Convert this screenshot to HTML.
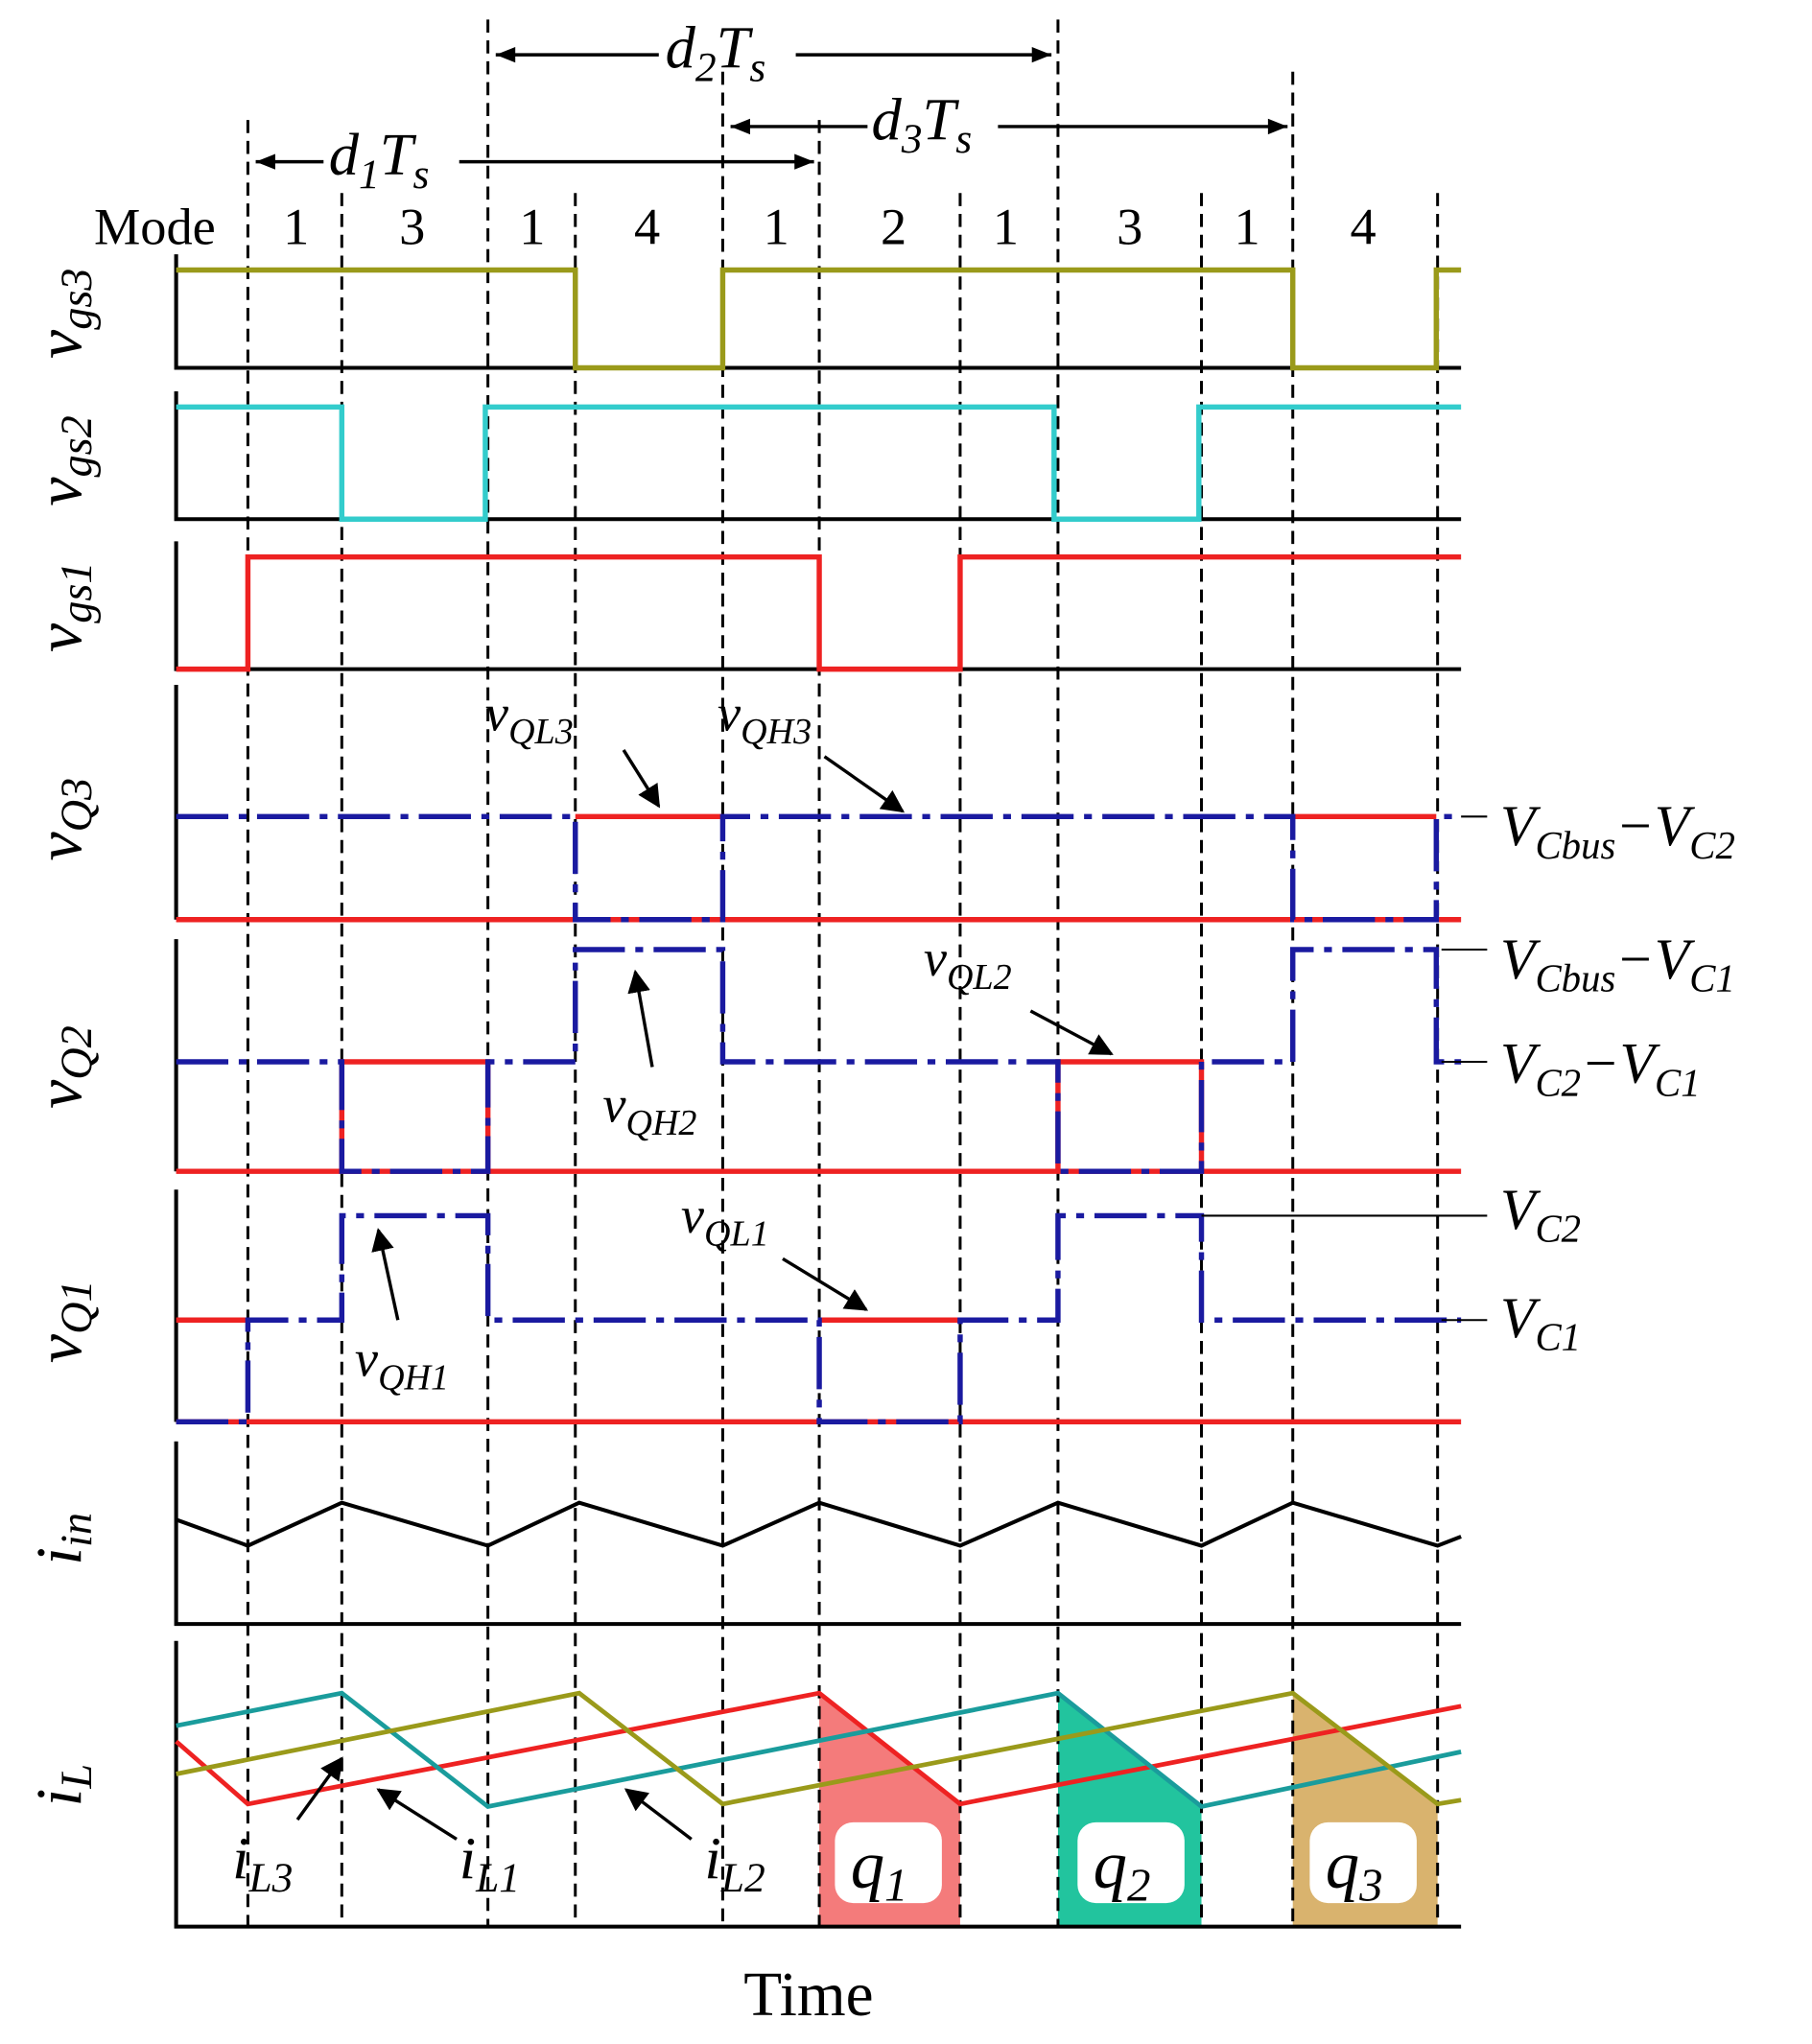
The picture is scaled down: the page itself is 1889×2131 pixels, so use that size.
<!DOCTYPE html>
<html><head><meta charset="utf-8"><style>
html,body{margin:0;padding:0;background:#fff;}
svg{display:block;}
text{font-family:"Liberation Serif",serif;}
</style></head><body>
<svg width="1889" height="2131" viewBox="0 0 1389 1567" xmlns="http://www.w3.org/2000/svg">
<defs><marker id="ah" viewBox="0 0 10 10" refX="9" refY="5" markerWidth="7" markerHeight="7" orient="auto"><path d="M0,0L10,5L0,10z" fill="#000"/></marker></defs>
<rect width="1389" height="1567" fill="#fff"/>
<polygon points="628,1298 736,1383 736,1477 628,1477" fill="#f47b7b"/>
<polygon points="811,1298 921,1385 921,1477 811,1477" fill="#22c49e"/>
<polygon points="991,1298 1102,1383 1102,1477 991,1477" fill="#d9b36e"/>
<g fill="#fff"><rect x="640" y="1397" width="82" height="62" rx="14"/><rect x="826" y="1397" width="82" height="62" rx="14"/><rect x="1004" y="1397" width="82" height="62" rx="14"/></g>
<g font-style="italic" font-size="52"><text x="652" y="1447">q<tspan font-size="36" dy="10">1</tspan></text><text x="838" y="1447">q<tspan font-size="36" dy="10">2</tspan></text><text x="1016" y="1447">q<tspan font-size="36" dy="10">3</tspan></text></g>
<g stroke="#000" stroke-width="3" fill="none">
<path d="M135,195V282H1120"/><path d="M135,300V398H1120"/><path d="M135,415V513H1120"/>
<path d="M135,525V705"/><path d="M135,720V898"/><path d="M135,912V1090"/>
<path d="M135,1105V1245H1120"/><path d="M135,1258V1477H1120"/>
</g>
<g stroke="#000" stroke-width="2.2" stroke-dasharray="10,6">
<path d="M374,15V1477"/><path d="M811,15V1477"/><path d="M190,92V1477"/><path d="M628,92V1477"/>
<path d="M554,55V1477"/><path d="M991,55V1477"/><path d="M262,148V1477"/><path d="M441,148V1477"/>
<path d="M736,148V1477"/><path d="M921,148V1477"/><path d="M1102,148V1477"/>
</g>
<g fill="none" stroke-width="4">
<path stroke="#9a9a1a" d="M135,207H441V282H554V207H991V282H1101V207H1120"/>
<path stroke="#33cccc" d="M135,312H262V398H372V312H808V398H919V312H1120"/>
<path stroke="#ee2222" d="M135,513H190V427H628V513H736V427H1120"/>
</g>
<g fill="none" stroke-width="4">
<path stroke="#ee2222" d="M135,705H1120M441,626H554M991,626H1101"/>
<path stroke="#1a1aa0" stroke-dasharray="40,8,6,8" d="M135,626H441V705H554V626H991V705H1101V626H1120"/>
<path stroke="#ee2222" d="M135,898H1120M262,898V814H374V898M811,898V814H921V898"/>
<path stroke="#1a1aa0" stroke-dasharray="40,8,6,8" d="M135,814H262V898H374V814H441V728H554V814H811V898H921V814H991V728H1101V814H1120"/>
<path stroke="#ee2222" d="M135,1090H1120M135,1012H190M628,1012H736"/>
<path stroke="#1a1aa0" stroke-dasharray="40,8,6,8" d="M135,1090H190V1012H262V932H374V1012H628V1090H736V1012H811V932H921V1012H1120"/>
</g>
<path fill="none" stroke="#000" stroke-width="3" d="M135,1165L190,1185L262,1152L374,1185L444,1152L554,1185L628,1152L736,1185L811,1152L921,1185L991,1152L1102,1185L1120,1178"/>
<g fill="none" stroke-width="3.5">
<path stroke="#ee2222" d="M135,1335L190,1383L628,1298L736,1383L1120,1308"/>
<path stroke="#1a9c9c" d="M135,1323L262,1298L374,1385L811,1298L921,1385L1120,1343"/>
<path stroke="#9a9a1a" d="M135,1360L444,1298L554,1383L991,1298L1102,1383L1120,1380"/>
</g>
<g stroke="#000" stroke-width="2.5" fill="none">
<path d="M380,42H505M610,42H806"/><path d="M196,124H248M352,124H624"/><path d="M560,97H665M765,97H987"/>
</g>
<g stroke="#000" stroke-width="2.5" fill="none" marker-end="url(#ah)">
<path d="M305,1012L290,943"/><path d="M500,818L487,745"/><path d="M478,575L505,618"/><path d="M632,580L692,622"/><path d="M790,775L852,808"/><path d="M600,965L664,1004"/><path d="M228,1395L262,1348"/><path d="M350,1410L290,1372"/><path d="M530,1410L480,1372"/>
</g>
<g stroke="#000" stroke-width="1.5" fill="none">
<path d="M1120,626H1140M1105,728H1140M1105,814H1140M921,932H1140M1105,1012H1140"/>
</g>
<g fill="#000">
<polygon points="380,42 395,36 395,48"/><polygon points="806,42 791,36 791,48"/>
<polygon points="196,124 211,118 211,130"/><polygon points="624,124 609,118 609,130"/>
<polygon points="560,97 575,91 575,103"/><polygon points="987,97 972,91 972,103"/>
</g>
<g font-size="40">
<text x="72" y="187">Mode</text>
<text x="217" y="187">1</text><text x="306" y="187">3</text><text x="398" y="187">1</text><text x="486" y="187">4</text><text x="585" y="187">1</text><text x="675" y="187">2</text><text x="761" y="187">1</text><text x="856" y="187">3</text><text x="946" y="187">1</text><text x="1035" y="187">4</text>
</g>
<text x="570" y="1545" font-size="48">Time</text>
<g font-style="italic" font-size="46">
<text x="510" y="52">d<tspan font-size="32" dy="10">2</tspan><tspan dy="-10">T</tspan><tspan font-size="32" dy="10">s</tspan></text>
<text x="252" y="134">d<tspan font-size="32" dy="10">1</tspan><tspan dy="-10">T</tspan><tspan font-size="32" dy="10">s</tspan></text>
<text x="668" y="107">d<tspan font-size="32" dy="10">3</tspan><tspan dy="-10">T</tspan><tspan font-size="32" dy="10">s</tspan></text>
</g>
<g font-style="italic" font-size="50">
<text transform="translate(62,275) rotate(-90)">v<tspan font-size="34" dy="8">gs3</tspan></text>
<text transform="translate(62,388) rotate(-90)">v<tspan font-size="34" dy="8">gs2</tspan></text>
<text transform="translate(62,500) rotate(-90)">v<tspan font-size="34" dy="8">gs1</tspan></text>
<text transform="translate(62,660) rotate(-90)">v<tspan font-size="34" dy="8">Q3</tspan></text>
<text transform="translate(62,850) rotate(-90)">v<tspan font-size="34" dy="8">Q2</tspan></text>
<text transform="translate(62,1045) rotate(-90)">v<tspan font-size="34" dy="8">Q1</tspan></text>
<text transform="translate(62,1200) rotate(-90)">i<tspan font-size="34" dy="8">in</tspan></text>
<text transform="translate(62,1385) rotate(-90)">i<tspan font-size="34" dy="8">L</tspan></text>
</g>
<g font-style="italic" font-size="40">
<text x="372" y="560">v<tspan font-size="28" dy="10">QL3</tspan></text>
<text x="550" y="560">v<tspan font-size="28" dy="10">QH3</tspan></text>
<text x="462" y="860">v<tspan font-size="28" dy="10">QH2</tspan></text>
<text x="708" y="748">v<tspan font-size="28" dy="10">QL2</tspan></text>
<text x="272" y="1055">v<tspan font-size="28" dy="10">QH1</tspan></text>
<text x="522" y="945">v<tspan font-size="28" dy="10">QL1</tspan></text>
<text x="178" y="1440" font-size="46">i<tspan font-size="32" dy="10">L3</tspan></text>
<text x="352" y="1440" font-size="46">i<tspan font-size="32" dy="10">L1</tspan></text>
<text x="540" y="1440" font-size="46">i<tspan font-size="32" dy="10">L2</tspan></text>
<g font-size="44">
<text x="1150" y="648">V<tspan font-size="30" dy="10">Cbus</tspan><tspan dy="-10">−V</tspan><tspan font-size="30" dy="10">C2</tspan></text>
<text x="1150" y="750">V<tspan font-size="30" dy="10">Cbus</tspan><tspan dy="-10">−V</tspan><tspan font-size="30" dy="10">C1</tspan></text>
<text x="1150" y="830">V<tspan font-size="30" dy="10">C2</tspan><tspan dy="-10">−V</tspan><tspan font-size="30" dy="10">C1</tspan></text>
<text x="1150" y="942">V<tspan font-size="30" dy="10">C2</tspan></text>
<text x="1150" y="1025">V<tspan font-size="30" dy="10">C1</tspan></text>
</g>
</g>
</svg>
</body></html>
